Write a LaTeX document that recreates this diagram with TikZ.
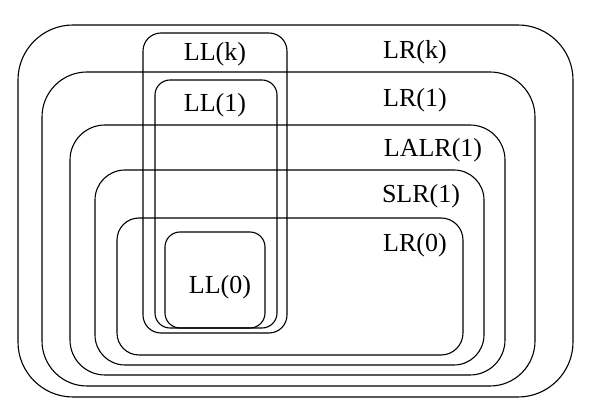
\documentclass[tikz,border=0pt]{standalone}
\usepackage{fontspec}
\setmainfont{Liberation Serif}
\begin{document}
\begin{tikzpicture}[x=1pt,y=-1pt,
  box/.style={draw,line width=1.1pt},
  lab/.style={font=\fontsize{26}{30}\selectfont}]
\useasboundingbox (0,0) rectangle (600,419);
\draw[box,rounded corners=55pt] (18,25) rectangle (573,397);
\draw[box,rounded corners=45pt] (42,72) rectangle (535,386);
\draw[box,rounded corners=35pt] (70,125) rectangle (505,375);
\draw[box,rounded corners=30pt] (95,170) rectangle (484,365);
\draw[box,rounded corners=22pt] (117,218) rectangle (463,355);
\draw[box,rounded corners=18pt] (143,33) rectangle (287,333);
\draw[box,rounded corners=15pt] (155,80) rectangle (277,328);
\draw[box,rounded corners=15pt] (165,232) rectangle (265,328);
\node[lab] (lrk) at (415,52) {LR(k)};
\node[lab] (lr1) at (415,100) {LR(1)};
\node[lab] (lalr) at (433,150) {LALR(1)};
\node[lab] (slr) at (421,196) {SLR(1)};
\node[lab] (lr0) at (415,245) {LR(0)};
\node[lab] (llk) at (215,54) {LL(k)};
\node[lab] (ll1) at (215,105) {LL(1)};
\node[lab] (ll0) at (220,287) {LL(0)};
\end{tikzpicture}
\end{document}
